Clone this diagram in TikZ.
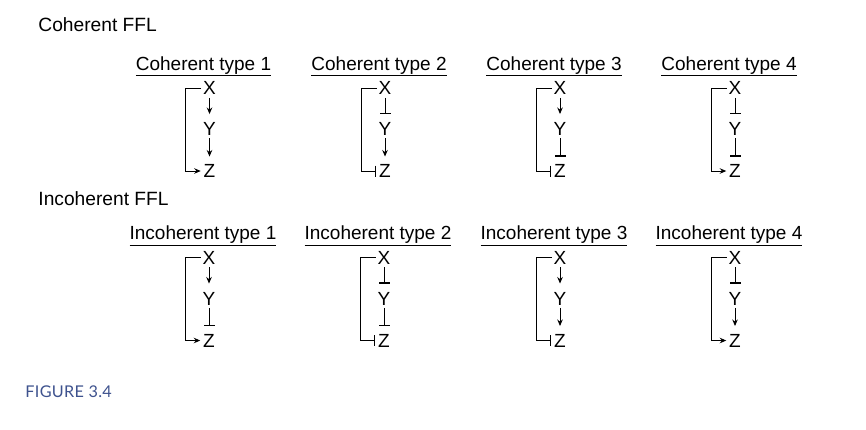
\documentclass[tikz,border=0pt]{standalone}
\usepackage{fontspec}
\setmainfont{Liberation Sans}
\newfontfamily\figfont[LetterSpace=2]{Lato}
\usetikzlibrary{arrows.meta}
\definecolor{figblue}{RGB}{62,82,142}
\begin{document}
\begin{tikzpicture}[x=1pt,y=-1pt,
  heading/.style={anchor=base west,inner sep=0pt,font=\fontsize{19.2}{22}\selectfont},
  ttl/.style={anchor=base,inner sep=0pt,font=\fontsize{19}{22}\selectfont},
  lt/.style={inner sep=0pt,font=\fontsize{19}{22}\selectfont},
  actarr/.style={-{Stealth[length=6.5pt,width=5.5pt]}},
  inharr/.style={-{Bar[width=11pt,line width=1.4pt]}},
  every path/.style={line width=0.9pt}]
\useasboundingbox (0,0) rectangle (866,429);
\fill[white] (0,0) rectangle (866,429);
\node[heading] (hc) at (38,31.5) {Coherent FFL};
\node[heading] (hi) at (38,205) {Incoherent FFL};
\node[anchor=base west,inner sep=0pt,text=figblue,font=\figfont\fontsize{16.2}{18}\selectfont] (fig) at (25,397) {FIGURE 3.4};
\foreach \n/\cx/\yy/\ttl/\ab/\bc/\ac in {
  c1/203.5/0/Coherent type 1/actarr/actarr/actarr,
  c2/379/0/Coherent type 2/inharr/actarr/inharr,
  c3/554/0/Coherent type 3/actarr/inharr/inharr,
  c4/729/0/Coherent type 4/inharr/inharr/actarr,
  i1/203/169.5/Incoherent type 1/actarr/inharr/actarr,
  i2/378/169.5/Incoherent type 2/inharr/inharr/inharr,
  i3/554/169.5/Incoherent type 3/actarr/actarr/inharr,
  i4/729/169.5/Incoherent type 4/inharr/actarr/actarr}{
  \node[ttl] (T\n) at (\cx,70+\yy) {\underline{\ttl}};
  \node[lt] (X\n) at (\cx+6,88+\yy) {X};
  \node[lt] (Y\n) at (\cx+6,129+\yy) {Y};
  \node[lt] (Z\n) at (\cx+6,171+\yy) {Z};
  \draw[\ab,shorten <=3pt,shorten >=8pt] (X\n) -- (Y\n);
  \draw[\bc,shorten <=2.5pt,shorten >=7.5pt] (Y\n) -- (Z\n);
  \draw[\ac,shorten <=1.5pt,shorten >=2.5pt] (X\n.west) -- ++(-17,0) |- (Z\n.west);
}
\end{tikzpicture}
\end{document}
